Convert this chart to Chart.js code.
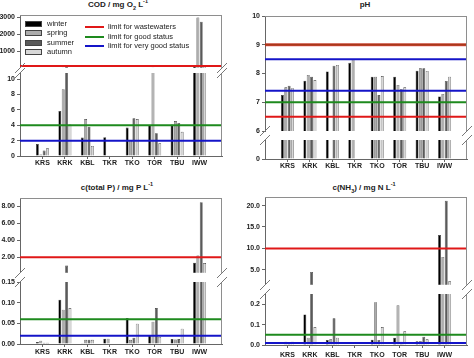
<!DOCTYPE html>
<html><head><meta charset="utf-8">
<script src="https://cdn.jsdelivr.net/npm/chart.js@4/dist/chart.umd.min.js"></script>
<style>
html,body{margin:0;padding:0;}
body{width:474px;height:358px;position:relative;background:#fff;overflow:hidden;font-family:"Liberation Sans",Arial,sans-serif;color:#222;}
canvas{position:absolute;}
.t{position:absolute;font-weight:bold;font-size:8px;transform:translate(-50%,-50%);white-space:nowrap;line-height:1;}
.t sub,.t sup{font-size:5.5px;line-height:0;}
.lgtxt{position:absolute;font-size:7.5px;white-space:nowrap;transform:translateY(-50%);line-height:1;}
.sw{position:absolute;box-sizing:border-box;border:1px solid #444;}
.ln{position:absolute;}
</style></head><body>
<div class="t" style="left:118px;top:5px">COD / mg O<sub>2</sub> L<sup>-1</sup></div>
<div class="t" style="left:365px;top:5px">pH</div>
<div class="t" style="left:117px;top:188px">c(total P) / mg P L<sup>-1</sup></div>
<div class="t" style="left:364px;top:188px">c(NH<sub>3</sub>) / mg N L<sup>-1</sup></div>
<script>
// ---------- data ----------
const categories = ['KRS','KRK','KBL','TKR','TKO','TOR','TBU','IWW'];
const seasons = ['winter','spring','summer','autumn'];
const limitLabels = ['limit for wastewaters','limit for good status','limit for very good status'];

// COD / mg O2 L-1
const codWinter = [1.55, 5.85, 2.4, 2.45, 3.7, 4.0, 4.1, 170];
const codSpring = [0.2, 8.7, 4.8, 0.1, 2.0, 12, 4.55, 3000];
const codSummer = [0.7, 160, 3.8, null, 4.9, 2.95, 4.3, 2750];
const codAutumn = [1.0, 4.1, 1.3, null, 4.8, 1.65, 3.15, 160];
const codLimits = [[125], [4], [2]];
const codUpperTicks = [1000, 2000, 3000];
const codLowerTicks = [0, 2, 4, 6, 8, 10];

// pH
const phWinter = [7.25, 7.75, 8.07, 8.37, 7.89, 7.89, 8.10, 7.20];
const phSpring = [7.52, 7.95, null, 8.48, 7.89, 7.60, 8.18, 7.29];
const phSummer = [7.57, 7.89, 8.27, null, 7.25, 7.45, 8.18, 7.74];
const phAutumn = [7.49, 7.77, 8.30, null, 7.91, 7.52, 8.09, 7.89];
const phLimits = [[6.5, 9], [7.0, 9], [7.4, 8.5]];
const phUpperTicks = [6, 7, 8, 9, 10];
const phLowerTicks = [0];

// c(total P) / mg P L-1
const tpWinter = [0.005, 0.107, 0.002, 0.013, 0.063, 0.022, 0.012, 1.35];
const tpSpring = [0.008, 0.083, 0.010, 0.013, 0.010, 0.054, 0.011, 2.2];
const tpSummer = [0.003, 1.0, 0.010, null, 0.015, 0.087, 0.012, 8.5];
const tpAutumn = [0.003, 0.087, 0.010, null, 0.049, 0.017, 0.037, 1.3];
const tpLimits = [[2], [0.06], [0.02]];
const tpUpperTicks = [2, 4, 6, 8];
const tpLowerTicks = [0, 0.05, 0.10, 0.15];

// c(NH3) / mg N L-1
const nhWinter = [null, 0.15, 0.025, null, 0.026, 0.036, 0.018, 13.1];
const nhSpring = [0.016, 0.036, 0.028, null, 0.21, 0.195, 0.018, 8.0];
const nhSummer = [0.008, 4.5, 0.131, null, 0.025, 0.016, 0.04, 21.1];
const nhAutumn = [0.016, 0.088, 0.036, null, 0.088, 0.067, 0.028, 2.3];
const nhLimits = [[10], [0.05], [0.01]];
const nhUpperTicks = [5, 10, 15, 20];
const nhLowerTicks = [0, 0.1, 0.2];

// ---------- styles ----------
const FONT = '"Liberation Sans", Arial, sans-serif';
const seasonColors = ['#000000', '#acacac', '#5a5a5a', '#d8d8d8'];
const limitColors = ['#e01818', '#1e8a1e', '#1414c8'];

// ---------- plugins ----------
const refLines = {
  id: 'refLines',
  afterDatasetsDraw(chart, args, o) {
    const {ctx, chartArea: a, scales: {y}} = chart;
    const groups = o.groups || [];
    const drawn = [];
    for (let g = groups.length - 1; g >= 0; g--) {
      groups[g].forEach(v => {
        if (v < y.min || v > y.max) return;
        const py = y.getPixelForValue(v);
        ctx.save();
        ctx.strokeStyle = limitColors[g];
        ctx.lineWidth = drawn.includes(v) ? 3 : (o.width || 2);
        if (drawn.includes(v)) ctx.globalAlpha = 0.72;
        ctx.beginPath(); ctx.moveTo(a.left, py); ctx.lineTo(a.right, py); ctx.stroke();
        ctx.restore();
        drawn.push(v);
      });
    }
  }
};
const frame = {
  id: 'frame',
  afterDraw(chart, args, o) {
    const {ctx, chartArea: a} = chart;
    ctx.save();
    ctx.strokeStyle = '#8e8e8e'; ctx.lineWidth = 1;
    ctx.beginPath();
    if (o.top) { ctx.moveTo(a.left, Math.round(a.top) + 0.5); ctx.lineTo(a.right, Math.round(a.top) + 0.5); }
    if (o.right) { ctx.moveTo(Math.round(a.right) - 0.5, a.top); ctx.lineTo(Math.round(a.right) - 0.5, a.bottom); }
    ctx.stroke();
    if (o.gap) {
      ctx.strokeStyle = '#777';
      [a.left, a.right].forEach(x => {
        [a.top - o.gap, a.top].forEach(yy => {
          ctx.beginPath(); ctx.moveTo(x - 5, yy + 5); ctx.lineTo(x + 5, yy - 5); ctx.stroke();
        });
      });
    }
    ctx.restore();
  }
};

function makeDatasets(series) {
  return series.map((vals, k) => ({
    label: seasons[k],
    data: vals.map((v, i) => ({x: i, y: v})),
    backgroundColor: seasonColors[k],
    borderColor: '#3a3a3a',
    borderWidth: 0.6,
    borderSkipped: 'start',
    categoryPercentage: 0.6,
    barPercentage: 0.86,
    clip: 0
  }));
}

function segment(o) {
  const c = document.createElement('canvas');
  c.width = o.rect.w; c.height = o.rect.h;
  c.style.left = o.rect.x + 'px'; c.style.top = o.rect.y + 'px';
  c.style.width = o.rect.w + 'px'; c.style.height = o.rect.h + 'px';
  document.body.appendChild(c);
  const xh = o.showX ? 13 : 0;
  const yw = o.area.l - o.rect.x;
  const pad = {
    left: 0,
    top: o.area.t - o.rect.y,
    right: o.rect.x + o.rect.w - o.area.r,
    bottom: o.rect.y + o.rect.h - o.area.b - xh
  };
  new Chart(c, {
    type: 'bar',
    data: {datasets: makeDatasets(o.series)},
    options: {
      responsive: false, animation: false, devicePixelRatio: 1,
      layout: {padding: pad, autoPadding: false},
      plugins: {
        legend: {display: false}, tooltip: {enabled: false},
        refLines: {groups: o.limits},
        frame: {top: o.frameTop, right: true, gap: o.gap}
      },
      scales: {
        x: {
          type: 'linear', min: -1, max: categories.length, offset: false,
          display: o.showX,
          afterFit(s) { s.height = xh; },
          afterBuildTicks(s) { s.ticks = categories.map((c, i) => ({value: i})); },
          ticks: {callback: v => categories[v], font: {family: FONT, size: 7, weight: 'bold'}, color: '#222', padding: o.xPad || 0, autoSkip: false, maxRotation: 0},
          grid: {drawOnChartArea: false, drawTicks: true, tickLength: 3, color: '#666', offset: false},
          border: {color: '#666', width: 1}
        },
        y: {
          type: 'linear', min: o.min, max: o.max,
          afterFit(s) { s.width = yw; },
          afterBuildTicks(s) { s.ticks = o.ticks.map(v => ({value: v})); },
          ticks: {callback: o.fmt, font: {family: FONT, size: 7, weight: 'bold'}, color: '#222', padding: 2},
          grid: {drawOnChartArea: false, drawTicks: true, tickLength: 3, color: '#666'},
          border: {color: '#666', width: 1}
        }
      }
    },
    plugins: [refLines, frame]
  });
}

const codSeries = [codWinter, codSpring, codSummer, codAutumn];
const phSeries = [phWinter, phSpring, phSummer, phAutumn];
const tpSeries = [tpWinter, tpSpring, tpSummer, tpAutumn];
const nhSeries = [nhWinter, nhSpring, nhSummer, nhAutumn];

// COD
segment({rect: {x: 0, y: 8, w: 232, h: 66}, area: {l: 20, t: 15, r: 222, b: 68}, min: 10.8, max: 3150,
  ticks: codUpperTicks, fmt: v => String(v), series: codSeries, limits: codLimits, frameTop: true, showX: false});
segment({rect: {x: 0, y: 58, w: 232, h: 114}, area: {l: 20, t: 73, r: 222, b: 156}, min: 0, max: 10.8,
  ticks: codLowerTicks, fmt: v => String(v), series: codSeries, limits: codLimits, showX: true, gap: 5});
// pH
segment({rect: {x: 237, y: 8, w: 237, h: 130}, area: {l: 265, t: 16, r: 467, b: 131}, min: 6, max: 10,
  ticks: phUpperTicks, fmt: v => String(v), series: phSeries, limits: phLimits, frameTop: true, showX: false});
segment({rect: {x: 237, y: 122, w: 237, h: 58}, area: {l: 265, t: 140, r: 467, b: 159}, min: 0, max: 1,
  ticks: phLowerTicks, fmt: v => String(v), series: phSeries, limits: phLimits, showX: true, gap: 9});
// total P
segment({rect: {x: 0, y: 190, w: 232, h: 89}, area: {l: 20, t: 198, r: 222, b: 273}, min: 0.15, max: 9,
  ticks: tpUpperTicks, fmt: v => v.toFixed(2), series: tpSeries, limits: tpLimits, frameTop: true, showX: false});
segment({rect: {x: 0, y: 268, w: 232, h: 90}, area: {l: 20, t: 282, r: 222, b: 344}, min: 0, max: 0.15,
  ticks: tpLowerTicks, fmt: v => v.toFixed(2), series: tpSeries, limits: tpLimits, showX: true, gap: 9, xPad: 1});
// NH3
segment({rect: {x: 237, y: 189, w: 237, h: 102}, area: {l: 265, t: 197, r: 467, b: 285}, min: 1.5, max: 22,
  ticks: nhUpperTicks, fmt: v => v.toFixed(1), series: nhSeries, limits: nhLimits, frameTop: true, showX: false});
segment({rect: {x: 237, y: 280, w: 237, h: 78}, area: {l: 265, t: 294, r: 467, b: 345}, min: 0, max: 0.25,
  ticks: nhLowerTicks, fmt: v => v.toFixed(1), series: nhSeries, limits: nhLimits, showX: true, gap: 9, xPad: 3});

// legend (COD panel)
seasons.forEach((s, k) => {
  const y = 23.7 + k * 9.45;
  const sw = document.createElement('div');
  sw.className = 'sw';
  sw.style.cssText = `left:25px;top:${y - 3}px;width:17px;height:6px;background:${seasonColors[k]};`;
  document.body.appendChild(sw);
  const t = document.createElement('div');
  t.className = 'lgtxt'; t.textContent = s;
  t.style.left = '47px'; t.style.top = y + 'px';
  document.body.appendChild(t);
});
limitLabels.forEach((s, k) => {
  const y = 27 + k * 9.65;
  const ln = document.createElement('div');
  ln.className = 'ln';
  ln.style.cssText = `left:85px;top:${y - 1}px;width:19px;height:2px;background:${limitColors[k]};`;
  document.body.appendChild(ln);
  const t = document.createElement('div');
  t.className = 'lgtxt'; t.textContent = s;
  t.style.left = '108px'; t.style.top = y + 'px';
  document.body.appendChild(t);
});
</script>
</body></html>
